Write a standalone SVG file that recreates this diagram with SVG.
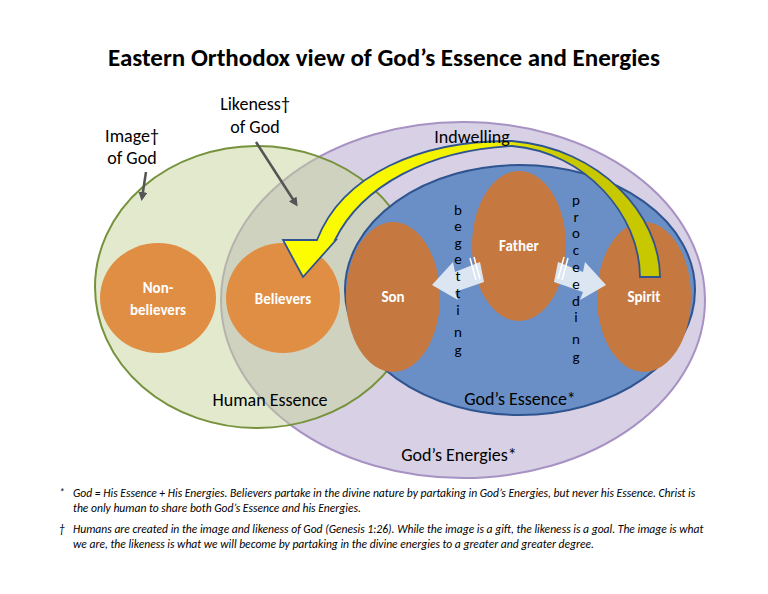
<svg xmlns="http://www.w3.org/2000/svg" width="768" height="594" viewBox="0 0 768 594">
<style>
text{font-family:Carlito,Calibri,"Liberation Sans",sans-serif;fill:#000}
.lbl{font-size:18px}
.w{fill:#fff;font-weight:bold;font-size:15px;text-anchor:middle}
.orange{fill:#c5783f}
.lo{fill:#e08e44}
.v{font-size:15px;text-anchor:middle}
.fn{font-size:11.6px;font-style:italic}
</style>
<defs>
<marker id="ah" markerWidth="9" markerHeight="9" refX="6" refY="4.5" orient="auto" markerUnits="userSpaceOnUse"><path d="M0,0 L9,4.5 L0,9 Z" fill="#555"/></marker>
<linearGradient id="yg" x1="280" y1="0" x2="660" y2="0" gradientUnits="userSpaceOnUse">
<stop offset="0" stop-color="#ffff00"/><stop offset="0.55" stop-color="#f0f000"/><stop offset="0.75" stop-color="#c8c800"/><stop offset="1" stop-color="#c8c800"/>
</linearGradient>
</defs>
<rect width="768" height="594" fill="#fff"/>
<text x="384" y="66" text-anchor="middle" font-size="25" font-weight="bold">Eastern Orthodox view of God’s Essence and Energies</text>
<g id="energies"><ellipse cx="463" cy="300" rx="242" ry="178" fill="#d8d0e4" stroke="#a792c4" stroke-width="2"/></g>
<g id="human"><ellipse cx="257" cy="287" rx="162" ry="141" fill="#c5d39a" fill-opacity="0.5" stroke="#76923c" stroke-width="2"/></g>
<g id="essence"><ellipse cx="520" cy="290" rx="175" ry="125" fill="#6a8fc6" stroke="#2f5490" stroke-width="2"/></g>
<g id="nonbelievers"><ellipse cx="158" cy="298" rx="58" ry="55" class="lo"/><text class="w" x="158" y="293">Non-</text><text class="w" x="158" y="315">believers</text></g>
<g id="believers"><ellipse cx="283" cy="298" rx="57" ry="55" class="lo"/><text class="w" x="283" y="304">Believers</text></g>
<g id="son"><ellipse cx="393" cy="297" rx="47" ry="75" class="orange"/><text class="w" x="393" y="302">Son</text></g>
<g id="father"><ellipse cx="519" cy="246" rx="47" ry="75" class="orange"/><text class="w" x="519" y="251">Father</text></g>
<g id="spirit"><ellipse cx="644" cy="297" rx="47" ry="75" class="orange"/><text class="w" x="644" y="302">Spirit</text></g>
<g id="connectors">
<polygon points="480,262 455,272 453,262 432,285 458,300 455,292 484,282" fill="#dce6f2"/>
<line x1="470" y1="258" x2="476" y2="280" stroke="#fff" stroke-width="1.5"/>
<line x1="474" y1="257" x2="480" y2="279" stroke="#fff" stroke-width="1.5"/>
<polygon points="558,262 583,272 585,262 606,285 580,300 583,292 554,282" fill="#dce6f2"/>
<line x1="568" y1="258" x2="562" y2="280" stroke="#fff" stroke-width="1.5"/>
<line x1="564" y1="257" x2="558" y2="279" stroke="#fff" stroke-width="1.5"/>
<path d="M660,277 C660,215 600,148 512,141 C420,140 342,175 317,240 L283,240 L303,277 L336,240 L335,240 C362,185 430,150 512,146 C585,152 640,215 640,277 Z" fill="url(#yg)" stroke="#2f5490" stroke-width="1.8" stroke-linejoin="miter"/>
<line x1="146" y1="172" x2="142" y2="198" stroke="#555" stroke-width="2.5" marker-end="url(#ah)"/>
<line x1="256" y1="142" x2="296" y2="204" stroke="#555" stroke-width="2.5" marker-end="url(#ah)"/>
</g>
<g id="labels">
<text class="lbl" x="132" y="142" text-anchor="middle">Image†</text>
<text class="lbl" x="132" y="164" text-anchor="middle">of God</text>
<text class="lbl" x="255" y="110" text-anchor="middle">Likeness†</text>
<text class="lbl" x="255" y="133" text-anchor="middle">of God</text>
<text class="lbl" x="472" y="143" text-anchor="middle">Indwelling</text>
<text class="lbl" x="270" y="406" text-anchor="middle">Human Essence</text>
<text class="lbl" x="520" y="405" text-anchor="middle">God’s Essence*</text>
<text class="lbl" x="459" y="461" text-anchor="middle">God’s Energies*</text>
<text class="v" x="458" y="215">b</text><text class="v" x="458" y="231">e</text><text class="v" x="458" y="248">g</text><text class="v" x="458" y="264">e</text><text class="v" x="458" y="281">t</text><text class="v" x="458" y="298">t</text><text class="v" x="458" y="315">i</text><text class="v" x="458" y="337">n</text><text class="v" x="458" y="355">g</text>
<text class="v" x="576" y="205">p</text><text class="v" x="576" y="222">r</text><text class="v" x="576" y="238">o</text><text class="v" x="576" y="255">c</text><text class="v" x="576" y="272">e</text><text class="v" x="576" y="289">e</text><text class="v" x="576" y="306">d</text><text class="v" x="576" y="322">i</text><text class="v" x="576" y="344">n</text><text class="v" x="576" y="362">g</text>
<text class="fn" x="59" y="497">*</text>
<text class="fn" x="73" y="497">God = His Essence + His Energies.  Believers partake in the divine nature by partaking in God’s Energies, but never his Essence.  Christ is</text>
<text class="fn" x="73" y="512">the only human to share both God’s Essence and his Energies.</text>
<text class="fn" x="59" y="533">†</text>
<text class="fn" x="73" y="533">Humans are created in the image and likeness of God (Genesis 1:26).  While the image is a gift, the likeness is a goal.  The image is what</text>
<text class="fn" x="73" y="548">we are, the likeness is what we will become by partaking in the divine energies to a greater and greater degree.</text>
</g>
</svg>
